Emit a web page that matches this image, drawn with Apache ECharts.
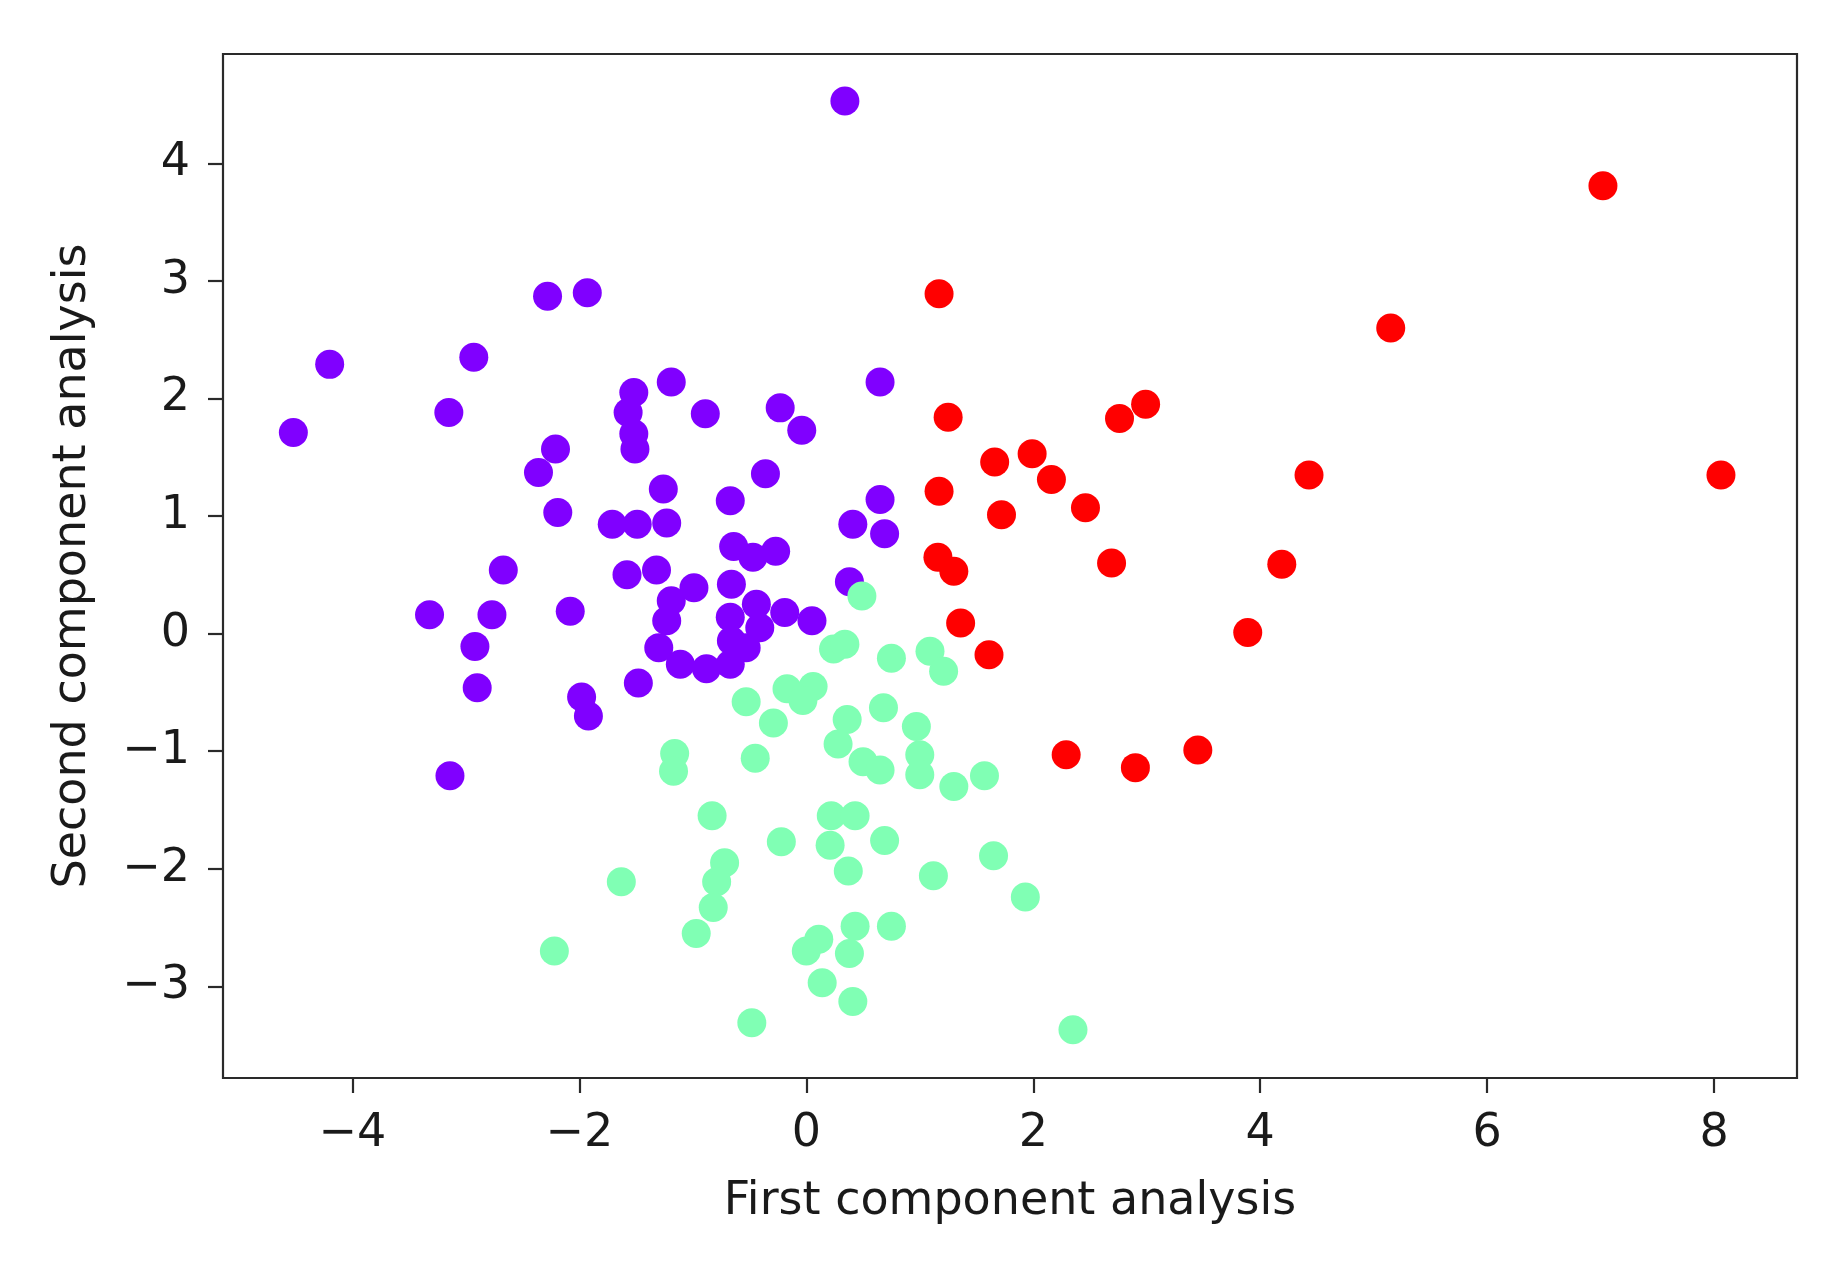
<!DOCTYPE html>
<html>
<head>
<meta charset="utf-8">
<script src="https://cdn.jsdelivr.net/npm/echarts@6/dist/echarts.min.js"></script>
<style>
html,body{margin:0;padding:0;background:#fff;}
#chart{width:1841px;height:1267px;}
</style>
</head>
<body>
<div id="chart"></div>
<script>
// Cluster 0 (purple)
const clusterPurple = [
  [0.34,4.53],[-2.28,2.87],[-1.93,2.90],[-4.20,2.29],[-4.52,1.71],[-2.93,2.35],[-3.15,1.88],
  [-1.19,2.14],[-1.52,2.05],[-1.57,1.88],[-1.52,1.70],[-1.51,1.57],[-0.89,1.87],[-0.23,1.92],
  [-0.04,1.73],[0.65,2.14],[-2.21,1.57],[-2.36,1.37],[-2.19,1.03],[-1.26,1.23],[-1.71,0.93],
  [-1.49,0.93],[-1.23,0.94],[-0.36,1.36],[-0.67,1.13],[0.65,1.14],[0.41,0.93],[0.69,0.85],
  [-2.67,0.54],[-3.32,0.16],[-2.77,0.16],[-2.92,-0.11],[-2.90,-0.46],[-2.08,0.19],[-1.98,-0.54],
  [-1.92,-0.70],[-3.14,-1.21],[-1.58,0.50],[-1.32,0.54],[-1.48,-0.42],[-0.64,0.74],[-0.27,0.70],
  [-0.47,0.65],[0.38,0.44],
  [-0.99,0.39],[-1.19,0.28],[-1.23,0.11],[-1.30,-0.12],[-1.11,-0.26],[-0.88,-0.30],[-0.67,-0.26],
  [-0.53,-0.12],[-0.41,0.05],[-0.44,0.25],[-0.66,0.42],[-0.67,0.14],[-0.19,0.18],[0.05,0.11],
  [-0.66,-0.06]
];
// Cluster 1 (green)
const clusterGreen = [
  [0.49,0.32],[0.24,-0.13],[0.34,-0.09],[0.75,-0.21],[1.09,-0.15],[1.21,-0.32],[-0.17,-0.47],
  [0.06,-0.45],[-0.03,-0.57],[-0.53,-0.58],[-0.29,-0.76],[0.36,-0.73],[0.68,-0.63],[0.97,-0.79],
  [1.00,-1.03],[0.28,-0.94],[-0.45,-1.06],[-1.16,-1.02],[-1.17,-1.17],[0.50,-1.09],[0.65,-1.16],
  [1.00,-1.20],[1.30,-1.30],[1.57,-1.21],[-0.83,-1.55],[0.22,-1.55],[0.43,-1.55],[-0.22,-1.77],
  [0.21,-1.80],[0.69,-1.76],[1.65,-1.89],[-0.72,-1.95],[-0.79,-2.11],[0.37,-2.02],[1.12,-2.06],
  [-1.63,-2.11],[-0.82,-2.33],[1.93,-2.24],[-0.97,-2.55],[0.43,-2.49],[0.75,-2.49],[-2.22,-2.70],
  [0.00,-2.70],[0.11,-2.60],[0.38,-2.72],[0.14,-2.97],[0.41,-3.13],[-0.48,-3.31],[2.35,-3.37]
];
// Cluster 2 (red)
const clusterRed = [
  [7.02,3.81],[1.17,2.89],[5.15,2.60],[1.25,1.84],[2.76,1.83],[2.99,1.95],[1.66,1.46],[1.99,1.53],
  [2.16,1.31],[4.43,1.35],[8.06,1.35],[1.17,1.21],[1.72,1.01],[2.46,1.07],[1.16,0.65],[1.30,0.53],
  [2.69,0.60],[4.19,0.59],[1.36,0.09],[1.61,-0.18],[3.89,0.01],[2.29,-1.03],[2.90,-1.14],[3.45,-0.99]
];
const xTicks = [-4,-2,0,2,4,6,8];
const yTicks = [-3,-2,-1,0,1,2,3,4];
const xTitle = 'First component analysis';
const yTitle = 'Second component analysis';

const FONT = 'DejaVu Sans';
const TXT = '#1a1a1a';
const AX = '#2a2a2a';
const fmt = v => (v < 0 ? '\u2212' + Math.abs(v) : String(v));

const chart = echarts.init(document.getElementById('chart'), null, {renderer: 'canvas'});
chart.setOption({
  animation: false,
  backgroundColor: '#ffffff',
  grid: {
    left: 223, top: 54, width: 1574, height: 1024,
    show: true, borderColor: AX, borderWidth: 2.2, backgroundColor: 'transparent',
    containLabel: false, outerBoundsMode: 'none'
  },
  xAxis: {
    type: 'value', min: -5.14, max: 8.73,
    name: xTitle, nameLocation: 'middle', nameGap: 101,
    nameTextStyle: {fontFamily: FONT, fontSize: 46, color: TXT},
    axisLine: {show: false, onZero: false},
    splitLine: {show: false},
    axisTick: {show: true, inside: false, length: 15, customValues: xTicks, lineStyle: {color: AX, width: 2.2}},
    axisLabel: {show: true, margin: 33, customValues: xTicks, formatter: fmt, fontFamily: FONT, fontSize: 46, color: TXT}
  },
  yAxis: {
    type: 'value', min: -3.78, max: 4.93,
    name: yTitle, nameLocation: 'middle', nameGap: 127, nameRotate: 90,
    nameTextStyle: {fontFamily: FONT, fontSize: 46, color: TXT},
    axisLine: {show: false, onZero: false},
    splitLine: {show: false},
    axisTick: {show: true, inside: false, length: 15, customValues: yTicks, lineStyle: {color: AX, width: 2.2}},
    axisLabel: {show: true, margin: 33, customValues: yTicks, formatter: fmt, fontFamily: FONT, fontSize: 46, color: TXT}
  },
  series: [
    {type: 'scatter', data: clusterPurple, symbol: 'circle', symbolSize: 29, itemStyle: {color: '#8000ff', opacity: 1}, silent: true},
    {type: 'scatter', data: clusterGreen, symbol: 'circle', symbolSize: 29, itemStyle: {color: '#80ffb4', opacity: 1}, silent: true},
    {type: 'scatter', data: clusterRed, symbol: 'circle', symbolSize: 29, itemStyle: {color: '#ff0000', opacity: 1}, silent: true}
  ]
});
</script>
</body>
</html>
